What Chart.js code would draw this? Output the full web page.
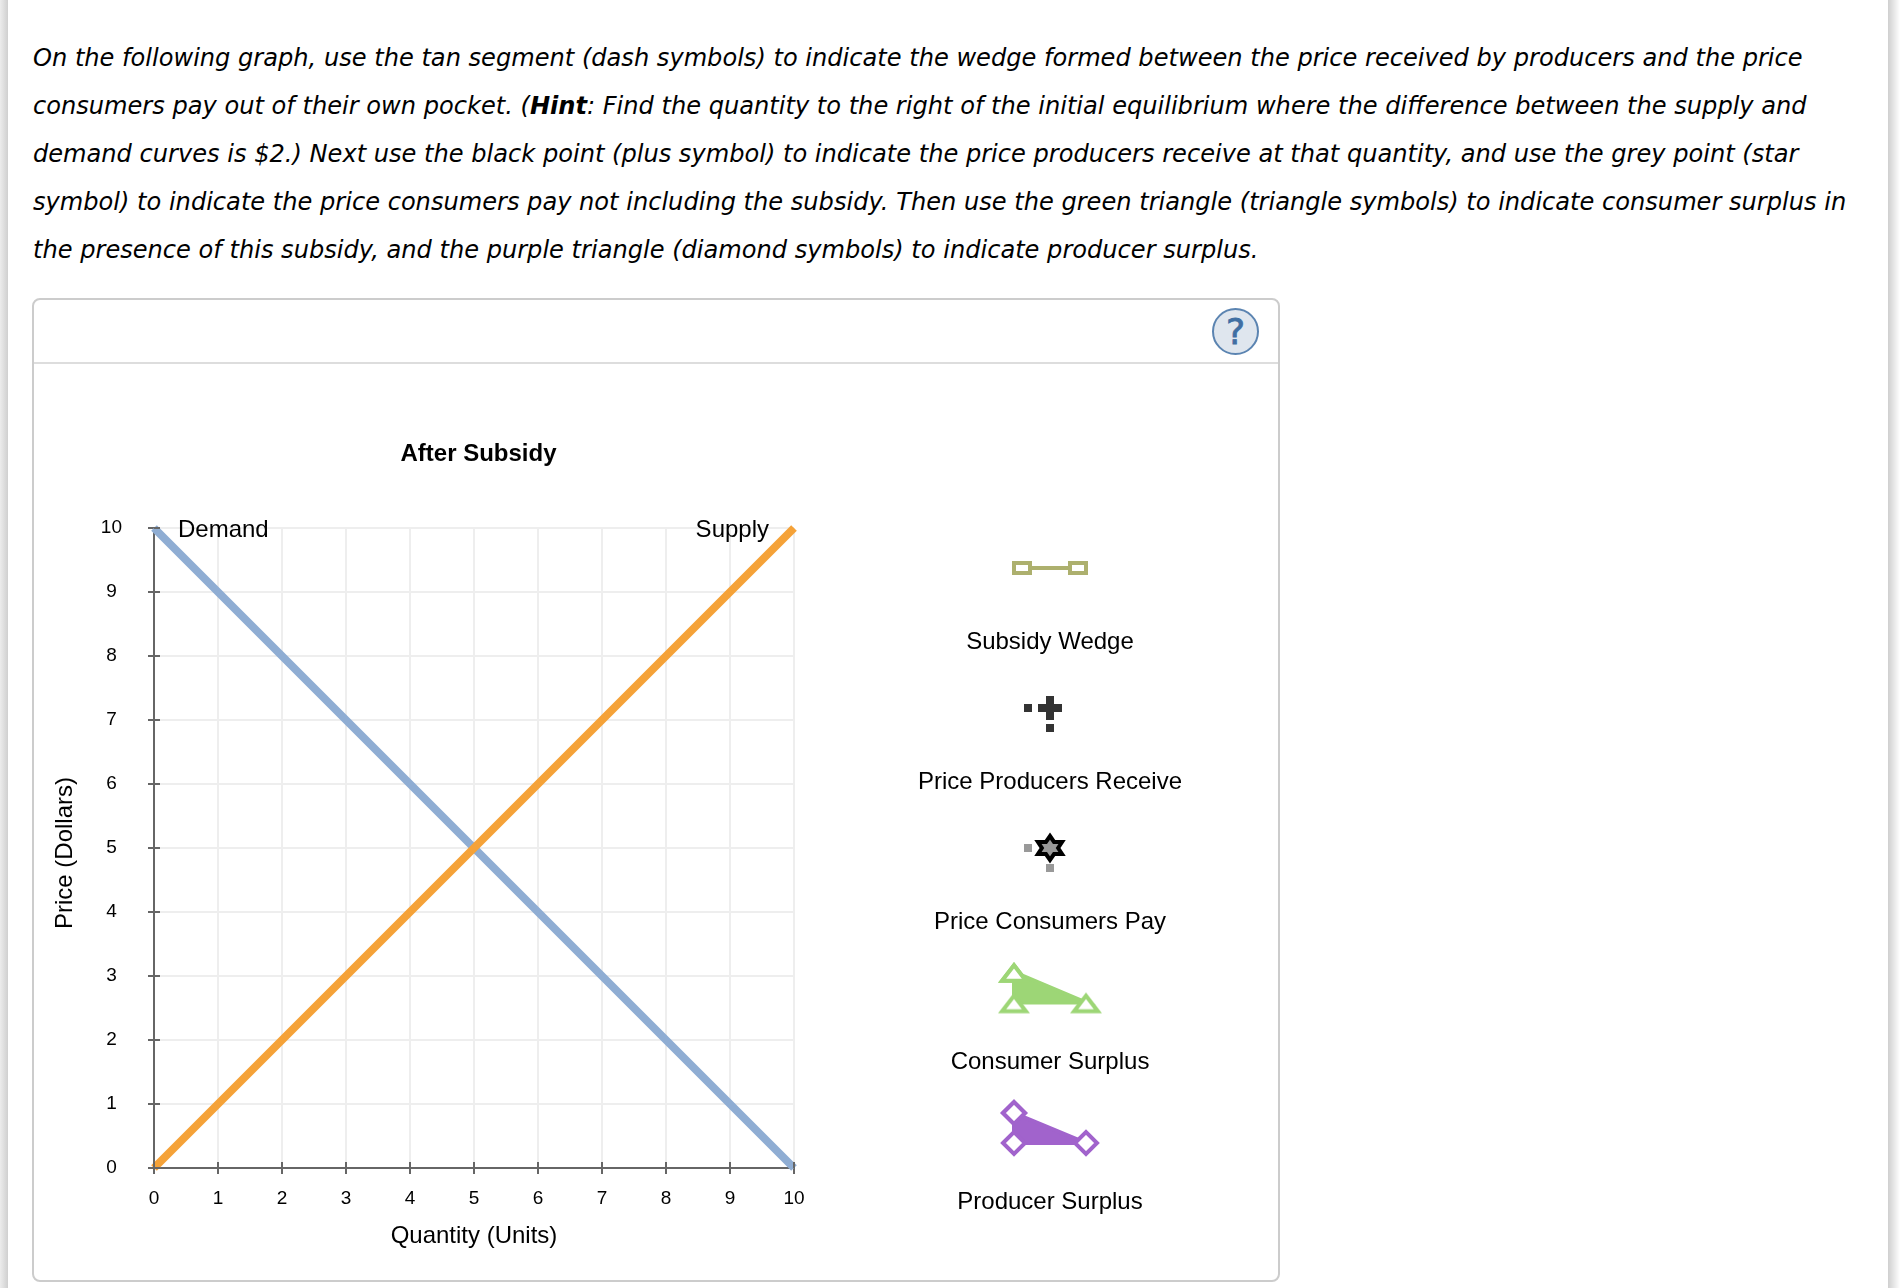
<!DOCTYPE html>
<html>
<head>
<meta charset="utf-8">
<title>After Subsidy</title>
<script src="https://cdn.jsdelivr.net/npm/chart.js@4"></script>
<style>
  html, body { margin: 0; padding: 0; background: #fff; }
  body { width: 1900px; height: 1288px; position: relative; overflow: hidden; }
  .edge { position: absolute; top: 0; bottom: 0; }
  .edge.left { left: 0; width: 8px; background: linear-gradient(to right, #ececec, #cfcfcf); }
  .edge.right { right: 0; width: 12px; background: linear-gradient(to right, #cfcfcf, #fff); }
  .question {
    position: absolute; left: 33px; top: 34px; margin: 0; width: 1820px;
    font: italic 24.1px/48px "DejaVu Sans", sans-serif; color: #000; white-space: nowrap;
  }
  .panel {
    position: absolute; left: 32px; top: 298px; width: 1244px; height: 980px;
    border: 2px solid #ccc; border-radius: 8px; box-sizing: content-box;
  }
  .panel .rule { position: absolute; left: 0; right: 0; top: 62px; height: 2px; background: #ddd; }
  .help {
    position: absolute; left: 1212px; top: 308px; width: 43px; height: 43px; border-radius: 50%;
    border: 2.5px solid #5b84b1; background: #dfe6ee; color: #3f6fa3; text-align: center;
    font: 36px/43px "DejaVu Sans", sans-serif; -webkit-text-stroke: 0.8px #3f6fa3;
  }
  #mainChart { position: absolute; left: 30px; top: 420px; }
  #paletteChart { position: absolute; left: 960px; top: 520px; }
  .tool { position: absolute; width: 360px; left: 870px; text-align: center; font: 24px "Liberation Sans", sans-serif; color: #000; }
</style>
</head>
<body>
<div class="edge left"></div>
<div class="edge right"></div>
<p class="question">On the following graph, use the tan segment (dash symbols) to indicate the wedge formed between the price received by producers and the price<br>
consumers pay out of their own pocket. (<b>Hint</b>: Find the quantity to the right of the initial equilibrium where the difference between the supply and<br>
demand curves is $2.) Next use the black point (plus symbol) to indicate the price producers receive at that quantity, and use the grey point (star<br>
symbol) to indicate the price consumers pay not including the subsidy. Then use the green triangle (triangle symbols) to indicate consumer surplus in<br>
the presence of this subsidy, and the purple triangle (diamond symbols) to indicate producer surplus.</p>
<div class="panel"><div class="rule"></div></div>
<div class="help">?</div>
<canvas id="mainChart" width="897" height="835"></canvas>
<canvas id="paletteChart" width="180" height="720"></canvas>
<div class="tool" style="top:627px">Subsidy Wedge</div>
<div class="tool" style="top:767px">Price Producers Receive</div>
<div class="tool" style="top:907px">Price Consumers Pay</div>
<div class="tool" style="top:1047px">Consumer Surplus</div>
<div class="tool" style="top:1187px">Producer Surplus</div>
<script>
const quantityTicks = [0, 1, 2, 3, 4, 5, 6, 7, 8, 9, 10];
const priceTicks = [0, 1, 2, 3, 4, 5, 6, 7, 8, 9, 10];
const demandQuantity = [0, 10];
const demandPrice = [10, 0];
const supplyQuantity = [0, 10];
const supplyPrice = [0, 10];
const chartTitle = "After Subsidy";
const xAxisTitle = "Quantity (Units)";
const yAxisTitle = "Price (Dollars)";

// palette icons, offsets from the centre of the palette column
const wedgeIconX = [-28, 28];
const wedgeIconY = [48, 48];
const plusIconX = [0];
const plusIconY = [188];
const plusGripX = [-22, 0];
const plusGripY = [188, 208];
const starIconX = [0];
const starIconY = [328];
const starGripX = [-22, 0];
const starGripY = [328, 348];
const consumerIconX = [-36, -36, 36, -36];
const consumerIconY = [452, 482.5, 482.5, 452];
const producerIconX = [-36, -36, 36, -36];
const producerIconY = [593, 623, 623, 593];

const AXIS_COLOR = "#666";
const GRID_COLOR = "#eee";
const FONT = "Liberation Sans";

function zipPoints(xs, ys) {
  return xs.map((x, i) => ({ x: x, y: ys[i] }));
}

function sprite(w, h, draw) {
  const c = document.createElement("canvas");
  c.width = w;
  c.height = h;
  draw(c.getContext("2d"));
  return c;
}

const wedgeMarker = sprite(20, 14, ctx => {
  ctx.fillStyle = "#fff";
  ctx.strokeStyle = "#adb06e";
  ctx.lineWidth = 4;
  ctx.fillRect(1, 1, 18, 12);
  ctx.strokeRect(2, 2, 16, 10);
});

const starMarker = sprite(36, 36, ctx => {
  ctx.beginPath();
  for (let i = 0; i < 12; i++) {
    const r = i % 2 ? 7 : 12;
    const a = -Math.PI / 2 + i * Math.PI / 6;
    const px = 18 + 1.16 * r * Math.cos(a);
    const py = 18 + r * Math.sin(a);
    if (i) ctx.lineTo(px, py); else ctx.moveTo(px, py);
  }
  ctx.closePath();
  ctx.fillStyle = "#999";
  ctx.strokeStyle = "#000";
  ctx.lineWidth = 4;
  ctx.fill();
  ctx.stroke();
});

const triangleMarker = sprite(36, 26, ctx => {
  ctx.beginPath();
  ctx.moveTo(18, 6.3);
  ctx.lineTo(29.9, 21.7);
  ctx.lineTo(6.1, 21.7);
  ctx.closePath();
  ctx.fillStyle = "#fff";
  ctx.strokeStyle = "#9dd676";
  ctx.lineWidth = 4;
  ctx.fill();
  ctx.stroke();
});

// inner half of the tick marks, the Demand / Supply labels and the y title
const axisExtras = {
  id: "axisExtras",
  afterDatasetsDraw(chart) {
    const { ctx, scales } = chart;
    const { x, y } = scales;
    ctx.save();
    ctx.strokeStyle = AXIS_COLOR;
    ctx.lineWidth = 2;
    ctx.beginPath();
    quantityTicks.forEach(v => {
      ctx.moveTo(x.getPixelForValue(v), y.getPixelForValue(0) - 6);
      ctx.lineTo(x.getPixelForValue(v), y.getPixelForValue(0));
    });
    priceTicks.forEach(v => {
      ctx.moveTo(x.getPixelForValue(0), y.getPixelForValue(v));
      ctx.lineTo(x.getPixelForValue(0) + 6, y.getPixelForValue(v));
    });
    ctx.stroke();
    ctx.fillStyle = "#000";
    ctx.font = "24px '" + FONT + "'";
    ctx.textBaseline = "middle";
    ctx.textAlign = "left";
    ctx.fillText("Demand", x.getPixelForValue(demandQuantity[0]) + 24, y.getPixelForValue(demandPrice[0]) + 2);
    ctx.textAlign = "right";
    ctx.fillText("Supply", x.getPixelForValue(supplyQuantity[1]) - 25, y.getPixelForValue(supplyPrice[1]) + 2);
    ctx.translate(x.left - 89, (y.top + y.bottom) / 2 + 5);
    ctx.rotate(-Math.PI / 2);
    ctx.textAlign = "center";
    ctx.fillText(yAxisTitle, 0, 0);
    ctx.restore();
  }
};

new Chart(document.getElementById("mainChart"), {
  type: "scatter",
  data: {
    datasets: [
      {
        label: "Supply",
        data: zipPoints(supplyQuantity, supplyPrice),
        showLine: true,
        borderColor: "#f5a238",
        borderWidth: 8,
        pointRadius: 0,
        clip: false,
        order: 1
      },
      {
        label: "Demand",
        data: zipPoints(demandQuantity, demandPrice),
        showLine: true,
        borderColor: "#8fadd3",
        borderWidth: 8,
        pointRadius: 0,
        clip: false,
        order: 2
      }
    ]
  },
  options: {
    responsive: false,
    animation: false,
    layout: { padding: 0, autoPadding: false },
    plugins: {
      legend: { display: false },
      tooltip: { enabled: false },
      title: {
        display: true,
        text: chartTitle,
        color: "#000",
        font: { family: FONT, size: 24, weight: "bold" },
        padding: { top: 20, bottom: 59.2 }
      }
    },
    scales: {
      x: {
        type: "linear",
        min: 0,
        max: 10,
        afterBuildTicks: s => { s.ticks = quantityTicks.map(v => ({ value: v })); },
        afterFit: s => { s.height = 87; },
        grid: { color: GRID_COLOR, lineWidth: 2, tickColor: AXIS_COLOR, tickLength: 6, tickWidth: 2 },
        border: { color: AXIS_COLOR, width: 2 },
        ticks: { color: "#000", font: { family: FONT, size: 19 }, padding: 13, maxRotation: 0 },
        title: { display: true, text: xAxisTitle, color: "#000", font: { family: FONT, size: 24 }, padding: { top: 12 } }
      },
      y: {
        type: "linear",
        min: 0,
        max: 10,
        afterBuildTicks: s => { s.ticks = priceTicks.map(v => ({ value: v })); },
        afterFit: s => { s.width = 124; },
        grid: { color: GRID_COLOR, lineWidth: 2, tickColor: AXIS_COLOR, tickLength: 6, tickWidth: 2 },
        border: { color: AXIS_COLOR, width: 2 },
        ticks: { color: "#000", font: { family: FONT, size: 19 }, padding: 26, crossAlign: "center" }
      },
      // empty axis that keeps the plot left of the palette and centres the title
      spacer: {
        type: "linear",
        position: "right",
        afterFit: s => { s.width = 133; },
        grid: { display: false },
        border: { display: false },
        ticks: { display: false }
      }
    }
  },
  plugins: [axisExtras]
});

new Chart(document.getElementById("paletteChart"), {
  type: "scatter",
  data: {
    datasets: [
      {
        label: "Subsidy Wedge",
        data: zipPoints(wedgeIconX, wedgeIconY),
        showLine: true,
        borderColor: "#adb06e",
        borderWidth: 4,
        pointStyle: wedgeMarker
      },
      {
        label: "Price Producers Receive",
        data: zipPoints(plusIconX, plusIconY),
        pointStyle: "cross",
        pointRadius: 12,
        borderColor: "#333",
        pointBorderWidth: 8
      },
      {
        label: "plus grip",
        data: zipPoints(plusGripX, plusGripY),
        pointStyle: "rect",
        pointRadius: 5.66,
        backgroundColor: "#333",
        pointBorderWidth: 0
      },
      {
        label: "star grip",
        data: zipPoints(starGripX, starGripY),
        pointStyle: "rect",
        pointRadius: 5.66,
        backgroundColor: "#999",
        pointBorderWidth: 0
      },
      {
        label: "Price Consumers Pay",
        data: zipPoints(starIconX, starIconY),
        pointStyle: starMarker
      },
      {
        label: "Consumer Surplus",
        data: zipPoints(consumerIconX, consumerIconY),
        showLine: true,
        fill: "shape",
        backgroundColor: "#9dd676",
        borderColor: "#9dd676",
        borderWidth: 4,
        pointStyle: triangleMarker
      },
      {
        label: "Producer Surplus",
        data: zipPoints(producerIconX, producerIconY),
        showLine: true,
        fill: "shape",
        backgroundColor: "#a163cc",
        borderColor: "#a163cc",
        borderWidth: 4,
        pointStyle: "rectRot",
        pointRadius: 11,
        pointBorderWidth: 4,
        pointBackgroundColor: "#fff",
        pointBorderColor: "#a163cc"
      }
    ]
  },
  options: {
    responsive: false,
    animation: false,
    layout: { padding: 0, autoPadding: false },
    plugins: { legend: { display: false }, tooltip: { enabled: false } },
    scales: {
      x: { type: "linear", display: false, min: -90, max: 90 },
      y: { type: "linear", display: false, min: 0, max: 720, reverse: true }
    }
  }
});
</script>
</body>
</html>
